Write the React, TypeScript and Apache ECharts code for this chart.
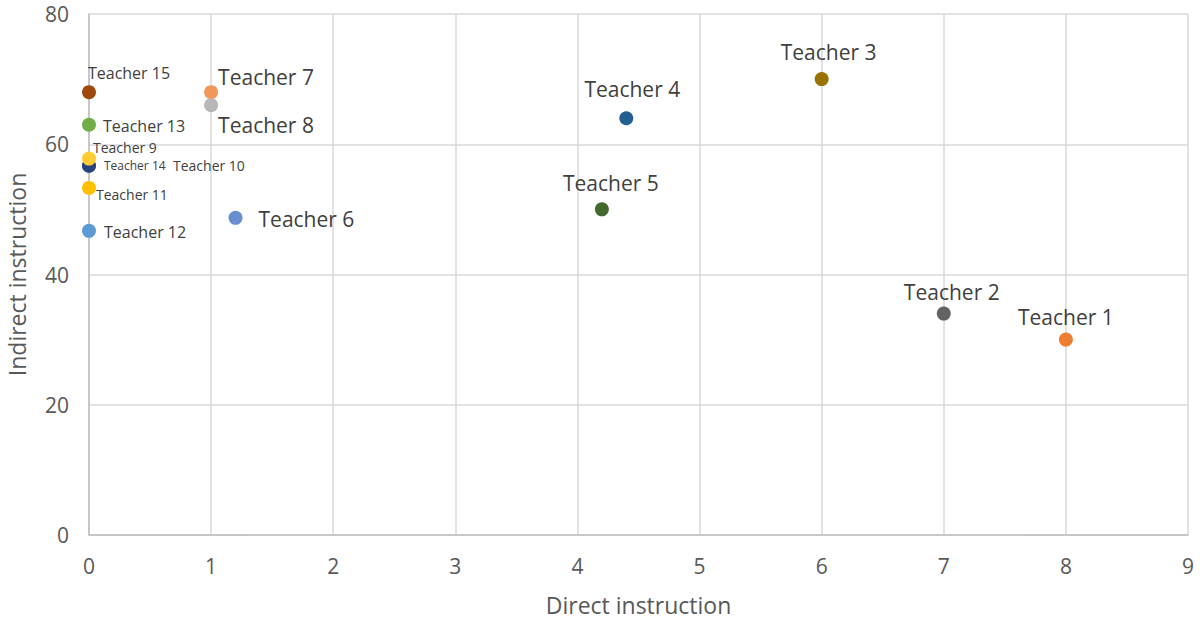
import React, { useEffect, useRef } from "react";
import * as echarts from "echarts";

const teachers = [
  "Teacher 1", "Teacher 2", "Teacher 3", "Teacher 4", "Teacher 5",
  "Teacher 6", "Teacher 7", "Teacher 8", "Teacher 9", "Teacher 10",
  "Teacher 11", "Teacher 12", "Teacher 13", "Teacher 14", "Teacher 15",
];
const directValues = [8, 7, 6, 4.4, 4.2, 1.2, 1, 1, 0, 0, 0, 0, 0, 0, 0];
const indirectValues = [30, 34, 70, 64, 50, 48.7, 68, 66, 57.8, 56.7, 53.3, 46.7, 63, 56.7, 68];
const colors = [
  "#ED7D31", "#636363", "#997300", "#255E91", "#43682B",
  "#698ED0", "#F1975A", "#B7B7B7", "#FFCD33", "#4472C4",
  "#FFC000", "#5B9BD5", "#70AD47", "#264478", "#9E480E",
];
const xTicks = [0, 9, 1];
const yTicks = [0, 80, 20];

// label layout: [align, dx, dy, fontSize]
const labelLayout: [string, number, number, number][] = [
  ["center", 0, -23, 21],
  ["center", 8, -22, 21],
  ["center", 7, -27, 21],
  ["center", 6, -29, 21],
  ["center", 9, -26, 21],
  ["left", 23, 1, 21],
  ["left", 7, -15, 21],
  ["left", 7, 20, 21],
  ["left", 4, -11, 14],
  ["left", 84, 0, 14],
  ["left", 7, 7, 14],
  ["left", 15, 1, 16],
  ["left", 14, 1, 16],
  ["left", 15, 0, 12],
  ["center", 40, -19, 16],
];

// drawing order (later on top)
const drawOrder = [0, 1, 2, 3, 4, 5, 6, 7, 9, 13, 8, 10, 11, 12, 14];

const FONT = "'Open Sans', sans-serif";

export default function App() {
  const ref = useRef<HTMLDivElement>(null);
  useEffect(() => {
    if (!ref.current) return;
    const chart = echarts.init(ref.current, undefined, { renderer: "svg" });
    const series = drawOrder.map((i, z) => {
      const [align, dx, dy, fs] = labelLayout[i];
      return {
        type: "scatter",
        name: teachers[i],
        z: 2 + z,
        symbol: "circle",
        symbolSize: 14,
        itemStyle: { color: colors[i], opacity: 1 },
        data: [[directValues[i], indirectValues[i]]],
        label: {
          show: true,
          formatter: teachers[i],
          position: "inside",
          align,
          verticalAlign: "middle",
          offset: [dx, dy],
          fontSize: fs,
          fontFamily: FONT,
          color: "#404040",
        },
      };
    });
    chart.setOption({
      animation: false,
      backgroundColor: "#ffffff",
      grid: {
        left: 89,
        right: 12,
        top: 14,
        bottom: 85,
        containLabel: false,
        outerBoundsMode: "none",
      },
      xAxis: {
        type: "value",
        min: xTicks[0],
        max: xTicks[1],
        interval: xTicks[2],
        name: "Direct instruction",
        nameLocation: "middle",
        nameGap: 58,
        nameTextStyle: { fontSize: 23, color: "#595959", fontFamily: FONT },
        axisLine: { show: true, lineStyle: { color: "#BFBFBF", width: 1.5 } },
        axisTick: { show: false },
        axisLabel: { fontSize: 21, color: "#595959", fontFamily: FONT, margin: 20 },
        splitLine: { show: true, lineStyle: { color: "#D9D9D9", width: 1.5 } },
      },
      yAxis: {
        type: "value",
        min: yTicks[0],
        max: yTicks[1],
        interval: yTicks[2],
        name: "Indirect instruction",
        nameLocation: "middle",
        nameGap: 61,
        nameTextStyle: { fontSize: 23, color: "#595959", fontFamily: FONT },
        axisLine: { show: true, lineStyle: { color: "#BFBFBF", width: 1.5 } },
        axisTick: { show: false },
        axisLabel: { fontSize: 21, color: "#595959", fontFamily: FONT, margin: 20 },
        splitLine: { show: true, lineStyle: { color: "#D9D9D9", width: 1.5 } },
      },
      series,
    });
    return () => chart.dispose();
  }, []);
  return (
    <div
      ref={ref}
      style={{ position: "fixed", left: 0, top: 0, width: 1200, height: 620, background: "#fff" }}
    />
  );
}
